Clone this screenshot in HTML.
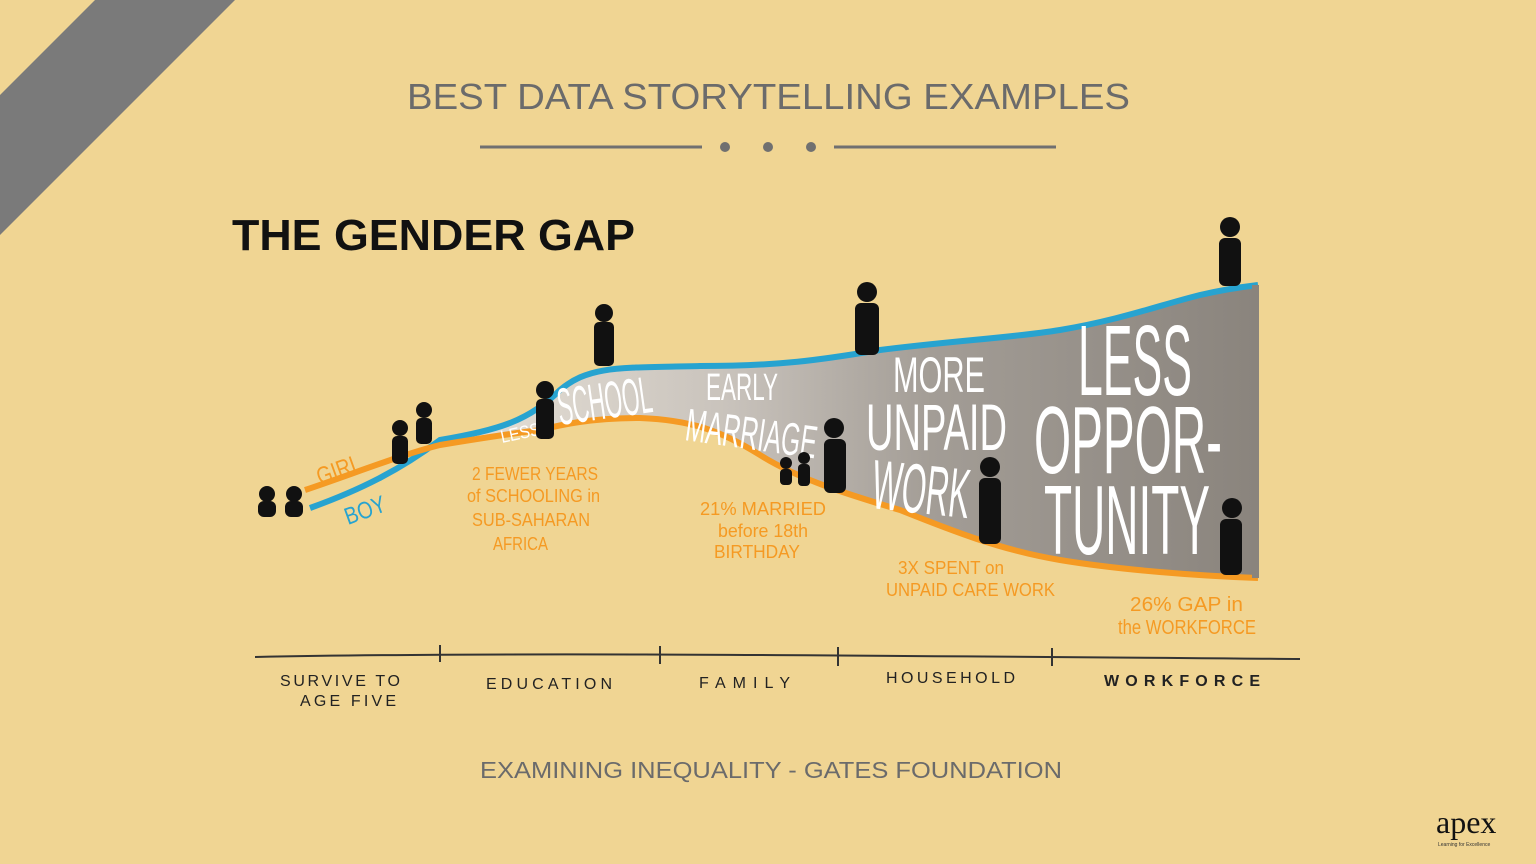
<!DOCTYPE html>
<html><head><meta charset="utf-8"><style>
html,body{margin:0;padding:0;width:1536px;height:864px;overflow:hidden;background:#f0d593;}
svg{position:absolute;left:0;top:0}
</style></head><body>
<svg width="1536" height="864" viewBox="0 0 1536 864" xmlns="http://www.w3.org/2000/svg">
<defs>
<linearGradient id="g" x1="0" x2="1" y1="0" y2="0">
<stop offset="0" stop-color="#e8e2d8"/><stop offset="0.35" stop-color="#c9c3bc"/><stop offset="0.6" stop-color="#a39d96"/><stop offset="1" stop-color="#8a847d"/>
</linearGradient>
</defs>
<polygon points="0,0 235,0 0,235" fill="#7a7a7a"/>
<polygon points="0,0 95,0 0,95" fill="#f0d593"/>
<text x="407" y="109" textLength="723" lengthAdjust="spacingAndGlyphs" font-family="Liberation Sans, sans-serif" font-size="36" fill="#6b6b6b">BEST DATA STORYTELLING EXAMPLES</text>
<line x1="480" y1="147" x2="702" y2="147" stroke="#707070" stroke-width="3"/>
<line x1="834" y1="147" x2="1056" y2="147" stroke="#707070" stroke-width="3"/>
<circle cx="725" cy="147" r="5" fill="#707070"/><circle cx="768" cy="147" r="5" fill="#707070"/><circle cx="811" cy="147" r="5" fill="#707070"/>
<text x="232" y="250" textLength="403" lengthAdjust="spacingAndGlyphs" font-family="Liberation Sans, sans-serif" font-weight="bold" font-size="44" fill="#111">THE GENDER GAP</text>

<path d="M440,440 C500,430 530,420 560,390 C590,365 620,368 700,366 C780,366 820,360 880,350 C960,340 1010,338 1060,330 C1120,320 1160,305 1200,295 C1230,288 1250,286 1258,285 L1258,578 C1200,576 1120,570 1060,560 C1000,550 950,530 900,510 C850,495 800,480 760,455 C720,430 690,420 640,418 C590,418 560,425 540,430 C500,435 470,440 440,445 Z" fill="url(#g)"/>
<path d="M310,508 C360,490 400,470 440,440 C500,430 530,420 560,390 C590,365 620,368 700,366 C780,366 820,360 880,350 C960,340 1010,338 1060,330 C1120,320 1160,305 1200,295 C1230,288 1250,286 1258,285" fill="none" stroke="#27a3d0" stroke-width="6"/>
<path d="M305,490 C350,475 400,455 440,445 C470,440 500,435 540,430 C560,425 590,418 640,418 C690,420 720,430 760,455 C800,480 850,495 900,510 C950,530 1000,550 1060,560 C1120,570 1200,576 1258,578" fill="none" stroke="#f59a23" stroke-width="6"/>
<rect x="1252" y="285" width="7" height="293" fill="#8a847d"/>

<g font-family="Liberation Sans, sans-serif" fill="#fff" lengthAdjust="spacingAndGlyphs">
<text x="560" y="425" font-size="52" textLength="95" lengthAdjust="spacingAndGlyphs" transform="rotate(-8 560 425)">SCHOOL</text>
<text x="502" y="443" font-size="18" textLength="40" lengthAdjust="spacingAndGlyphs" transform="rotate(-12 502 443)">LESS</text>
<text x="706" y="400" font-size="38" textLength="72" lengthAdjust="spacingAndGlyphs">EARLY</text>
<text x="684" y="440" font-size="46" textLength="132" lengthAdjust="spacingAndGlyphs" transform="rotate(8 684 440)">MARRIAGE</text>
<text x="893" y="392" font-size="50" textLength="92" lengthAdjust="spacingAndGlyphs">MORE</text>
<text x="866" y="450" font-size="66" textLength="141" lengthAdjust="spacingAndGlyphs">UNPAID</text>
<text x="870" y="508" font-size="70" textLength="98" lengthAdjust="spacingAndGlyphs" transform="rotate(6 870 508)">WORK</text>
<text x="1078" y="395" font-size="100" textLength="114" lengthAdjust="spacingAndGlyphs">LESS</text>
<text x="1034" y="473" font-size="96" textLength="188" lengthAdjust="spacingAndGlyphs">OPPOR-</text>
<text x="1044" y="554" font-size="98" textLength="166" lengthAdjust="spacingAndGlyphs">TUNITY</text>
</g>
<g font-family="Liberation Sans, sans-serif" fill="#f59a23" font-size="18">
<text x="320" y="485" font-size="24" textLength="46" lengthAdjust="spacingAndGlyphs" transform="rotate(-20 320 485)">GIRL</text>
<text x="348" y="525" font-size="24" textLength="42" lengthAdjust="spacingAndGlyphs" fill="#27a3d0" transform="rotate(-20 348 525)">BOY</text>
<text x="472" y="480" textLength="126" lengthAdjust="spacingAndGlyphs">2 FEWER YEARS</text>
<text x="467" y="502" textLength="133" lengthAdjust="spacingAndGlyphs">of SCHOOLING in</text>
<text x="472" y="526" textLength="118" lengthAdjust="spacingAndGlyphs">SUB-SAHARAN</text>
<text x="493" y="550" textLength="55" lengthAdjust="spacingAndGlyphs">AFRICA</text>
<text x="700" y="515" textLength="126" lengthAdjust="spacingAndGlyphs">21% MARRIED</text>
<text x="718" y="537" textLength="90" lengthAdjust="spacingAndGlyphs">before 18th</text>
<text x="714" y="558" textLength="86" lengthAdjust="spacingAndGlyphs">BIRTHDAY</text>
<text x="898" y="574" textLength="106" lengthAdjust="spacingAndGlyphs">3X SPENT on</text>
<text x="886" y="596" textLength="169" lengthAdjust="spacingAndGlyphs">UNPAID CARE WORK</text>
<text x="1130" y="611" font-size="20" textLength="113" lengthAdjust="spacingAndGlyphs">26% GAP in</text>
<text x="1118" y="634" font-size="20" textLength="138" lengthAdjust="spacingAndGlyphs">the WORKFORCE</text>
</g>

<g fill="#111">
<circle cx="267" cy="494" r="8"/><rect x="258" y="501" width="18" height="16" rx="6"/>
<circle cx="294" cy="494" r="8"/><rect x="285" y="501" width="18" height="16" rx="6"/>
<circle cx="400" cy="428" r="8"/><rect x="392" y="436" width="16" height="28" rx="5"/>
<circle cx="424" cy="410" r="8"/><rect x="416" y="418" width="16" height="26" rx="5"/>
<circle cx="545" cy="390" r="9"/><rect x="536" y="399" width="18" height="40" rx="5"/>
<circle cx="604" cy="313" r="9"/><rect x="594" y="322" width="20" height="44" rx="5"/>
<circle cx="867" cy="292" r="10"/><rect x="855" y="303" width="24" height="52" rx="6"/>
<circle cx="834" cy="428" r="10"/><rect x="824" y="439" width="22" height="54" rx="6"/>
<circle cx="786" cy="463" r="6"/><rect x="780" y="469" width="12" height="16" rx="4"/>
<circle cx="804" cy="458" r="6"/><rect x="798" y="464" width="12" height="22" rx="4"/>
<circle cx="990" cy="467" r="10"/><rect x="979" y="478" width="22" height="66" rx="6"/>
<circle cx="1230" cy="227" r="10"/><rect x="1219" y="238" width="22" height="48" rx="6"/>
<circle cx="1232" cy="508" r="10"/><rect x="1220" y="519" width="22" height="56" rx="6"/>
</g>

<path d="M255,657 C500,652 800,655 1300,659" fill="none" stroke="#333" stroke-width="2"/>
<g stroke="#333" stroke-width="2"><line x1="440" y1="645" x2="440" y2="662"/><line x1="660" y1="646" x2="660" y2="664"/><line x1="838" y1="647" x2="838" y2="666"/><line x1="1052" y1="648" x2="1052" y2="666"/></g>
<g font-family="Liberation Sans, sans-serif" font-size="16" fill="#222">
<text x="280" y="686" textLength="120" lengthAdjust="spacing">SURVIVE TO</text><text x="300" y="706" textLength="96" lengthAdjust="spacing">AGE FIVE</text>
<text x="486" y="689" textLength="126" lengthAdjust="spacing">EDUCATION</text>
<text x="699" y="688" textLength="91" lengthAdjust="spacing">FAMILY</text>
<text x="886" y="683" textLength="129" lengthAdjust="spacing">HOUSEHOLD</text>
<text x="1104" y="686" font-weight="bold" textLength="156" lengthAdjust="spacing">WORKFORCE</text>
</g>
<text x="480" y="778" textLength="582" lengthAdjust="spacingAndGlyphs" font-family="Liberation Sans, sans-serif" font-size="23" fill="#6b6b6b">EXAMINING INEQUALITY - GATES FOUNDATION</text>
<text x="1436" y="833" font-family="Liberation Serif, serif" font-size="32" fill="#111">apex</text>
<text x="1438" y="846" font-family="Liberation Sans, sans-serif" font-size="5" fill="#333">Learning for Excellence</text>
</svg>
</body></html>
